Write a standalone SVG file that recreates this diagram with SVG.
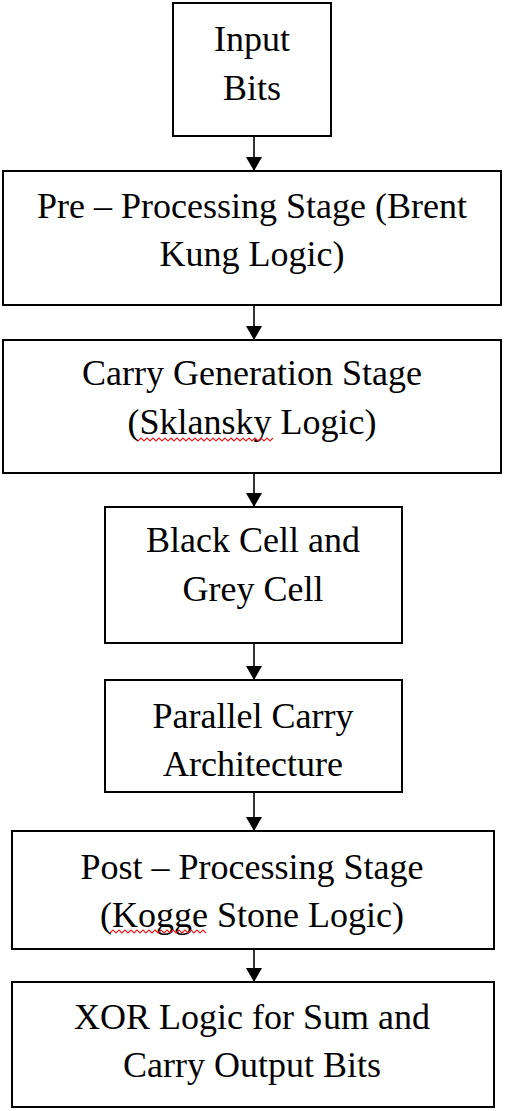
<svg xmlns="http://www.w3.org/2000/svg" width="505" height="1111" viewBox="0 0 505 1111">
<style>
.box{fill:#fff;stroke:#000;stroke-width:2}
.t{font-family:"Liberation Serif","Times New Roman",serif;font-size:36px;fill:#000;text-anchor:middle}
.c{stroke:#000;stroke-width:1.6;fill:none}
.sq{stroke:#e02020;stroke-width:1.2;fill:none}
</style>
<defs>
<marker id="ah" viewBox="0 0 14 16" refX="14" refY="8" markerWidth="14" markerHeight="16" markerUnits="userSpaceOnUse" orient="auto">
<path d="M0,0 L14,8 L0,16 z" fill="#000"/>
</marker>
</defs>
<rect width="505" height="1111" fill="#fff"/>
<g id="connectors">
<line class="c" x1="254" y1="136" x2="254" y2="171" marker-end="url(#ah)"/>
<line class="c" x1="254" y1="305" x2="254" y2="340" marker-end="url(#ah)"/>
<line class="c" x1="254" y1="473" x2="254" y2="507" marker-end="url(#ah)"/>
<line class="c" x1="254" y1="643" x2="254" y2="680" marker-end="url(#ah)"/>
<line class="c" x1="254" y1="792" x2="254" y2="831" marker-end="url(#ah)"/>
<line class="c" x1="254" y1="949" x2="254" y2="982" marker-end="url(#ah)"/>
</g>
<g id="n1">
<rect class="box" x="173" y="3" width="158" height="133"/>
<text class="t" x="252" y="51">Input</text>
<text class="t" x="252" y="100">Bits</text>
</g>
<g id="n2">
<rect class="box" x="3" y="171" width="498" height="134"/>
<text class="t" x="252" y="218">Pre – Processing Stage (Brent</text>
<text class="t" x="252" y="266">Kung Logic)</text>
</g>
<g id="n3">
<rect class="box" x="3" y="340" width="498" height="133"/>
<text class="t" x="252" y="385">Carry Generation Stage</text>
<text class="t" x="252" y="434">(Sklansky Logic)</text>
<path class="sq" d="M138,441 l3,-3 l3,3 l3,-3 l3,3 l3,-3 l3,3 l3,-3 l3,3 l3,-3 l3,3 l3,-3 l3,3 l3,-3 l3,3 l3,-3 l3,3 l3,-3 l3,3 l3,-3 l3,3 l3,-3 l3,3 l3,-3 l3,3 l3,-3 l3,3 l3,-3 l3,3 l3,-3 l3,3 l3,-3 l3,3 l3,-3 l3,3 l3,-3 l3,3 l3,-3 l3,3 l3,-3 l3,3 l3,-3 l3,3 l3,-3 l3,3 l3,-3"/>
</g>
<g id="n4">
<rect class="box" x="105" y="507" width="297" height="136"/>
<text class="t" x="253" y="552">Black Cell and</text>
<text class="t" x="253" y="601">Grey Cell</text>
</g>
<g id="n5">
<rect class="box" x="105" y="680" width="297" height="112"/>
<text class="t" x="253" y="728">Parallel Carry</text>
<text class="t" x="253" y="776">Architecture</text>
</g>
<g id="n6">
<rect class="box" x="12" y="831" width="482" height="118"/>
<text class="t" x="252" y="879">Post – Processing Stage</text>
<text class="t" x="252" y="927">(Kogge Stone Logic)</text>
<path class="sq" d="M110,933 l3,-3 l3,3 l3,-3 l3,3 l3,-3 l3,3 l3,-3 l3,3 l3,-3 l3,3 l3,-3 l3,3 l3,-3 l3,3 l3,-3 l3,3 l3,-3 l3,3 l3,-3 l3,3 l3,-3 l3,3 l3,-3 l3,3 l3,-3 l3,3 l3,-3 l3,3 l3,-3 l3,3 l3,-3 l3,3"/>
</g>
<g id="n7">
<rect class="box" x="12" y="982" width="482" height="125"/>
<text class="t" x="252" y="1029">XOR Logic for Sum and</text>
<text class="t" x="252" y="1077">Carry Output Bits</text>
</g>
</svg>
